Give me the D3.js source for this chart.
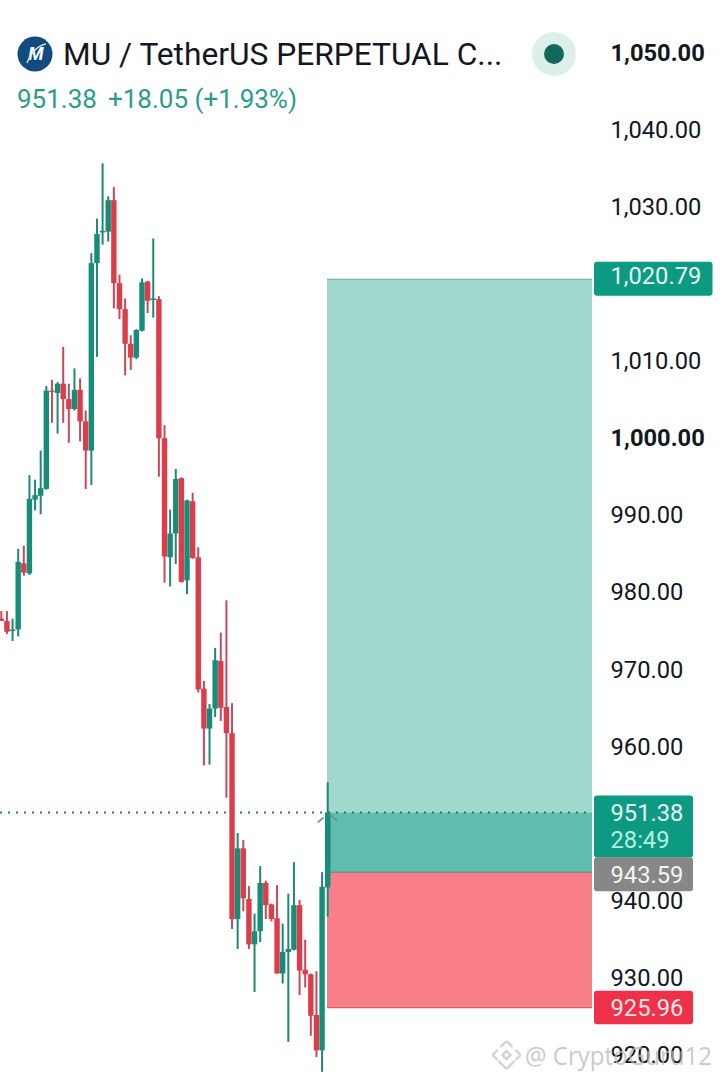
<!DOCTYPE html>
<html><head><meta charset="utf-8">
<style>html,body{margin:0;padding:0;background:#fff;overflow:hidden}svg{display:block}text{font-family:Roboto,sans-serif}</style>
<script src="https://cdn.jsdelivr.net/npm/d3@7"></script></head><body>
<script>
const opens=[976.6,976.3,975.0,975.2,983.8,982.5,992.1,992.6,993.5,1006.3,1006.0,1007.2,1005.2,1003.9,1006.4,1002.3,998.5,1022.9,1026.9,1027.0,1031.1,1020.3,1016.9,1012.4,1010.6,1014.1,1020.5,1018.1,1018.2,1000.1,984.6,987.7,994.9,981.6,991.9,984.6,967.5,962.3,964.9,971.1,965.1,961.7,937.5,946.7,940.1,934.2,935.9,942.2,939.4,937.6,930.4,933.2,933.5,939.3,930.9,930.3,925.0,920.4,941.6];
const highs=[977.6,977.6,976.6,985.7,986.1,995.3,994.7,998.5,1006.9,1007.7,1007.4,1012.0,1007.2,1009.2,1007.9,1003.7,1024.2,1028.7,1035.9,1031.6,1032.8,1021.4,1018.3,1013.5,1014.3,1020.9,1020.6,1026.1,1018.6,1001.8,990.8,996.1,995.0,992.1,993.0,985.9,968.5,965.5,972.8,974.8,979.0,965.6,948.7,947.8,941.8,938.2,944.4,942.5,939.5,941.9,936.9,940.8,944.9,940.0,934.8,930.4,930.7,943.6,955.3];
const lows=[976.3,974.6,973.7,974.3,982.2,982.3,990.7,990.2,993.4,1002.1,1000.7,1002.1,999.5,1003.7,999.7,993.5,994.0,1010.7,1025.3,1025.7,1017.0,1015.6,1008.3,1009.0,1010.4,1014.0,1016.4,1015.8,995.1,981.3,980.8,983.7,981.3,979.8,984.4,967.0,957.5,957.6,963.8,963.3,953.3,936.2,933.6,938.5,933.6,928.0,934.5,937.5,937.2,930.4,929.1,921.5,933.4,927.6,928.6,922.3,919.5,917.6,937.8];
const closes=[976.3,974.9,975.2,984.0,982.6,992.2,992.7,993.6,1006.3,1006.2,1007.2,1005.2,1003.9,1006.4,1002.3,998.5,1022.9,1026.7,1027.1,1031.1,1020.3,1016.9,1012.4,1010.6,1014.2,1020.4,1018.0,1018.3,1000.1,984.7,987.7,994.8,981.4,992.0,984.5,967.4,962.3,964.9,971.2,965.0,961.7,937.5,946.7,940.2,934.2,935.9,942.2,939.3,937.5,930.4,933.2,933.6,939.3,930.8,930.3,924.9,920.4,941.7,951.38];
const tickValues=[1050,1040,1030,1010,1000,990,980,970,960,940,930,920];
const boldTicks=[1050,1000];
const targetPrice=1020.79, entryPrice=943.59, stopPrice=925.96, lastPrice=951.38;
const titleText="MU / TetherUS PERPETUAL C...";
const quoteText="951.38";
const changeText="+18.05 (+1.93%)";
const countdownText="28:49";
const watermarkText="@ CryptoGuru12";

const W=720,H=1081;
const GREEN="#178d79",RED="#dc3d4b",GWICK="#1e8877",RWICK="#c9485a";
const svg=d3.select("body").append("svg").attr("width",W).attr("height",H);
const y=d3.scaleLinear().domain([920,1050]).range([1053.4,55]);
const yTick=d3.scaleLinear().domain([920,1050]).range([1054.5,52.5]);
const x=d3.scaleLinear().domain([0,opens.length-1]).range([1.3,327.7]);
const fmt=d3.format(",.2f");

// position box
const boxL=327,boxR=592;
const box=svg.append("g");
box.append("rect").attr("x",boxL).attr("width",boxR-boxL).attr("y",y(targetPrice)).attr("height",y(lastPrice)-y(targetPrice)).attr("fill","#a0d8cd");
box.append("rect").attr("x",boxL).attr("width",boxR-boxL).attr("y",y(lastPrice)).attr("height",y(entryPrice)-y(lastPrice)).attr("fill","#60bdad");
box.append("rect").attr("x",boxL).attr("width",boxR-boxL).attr("y",y(entryPrice)).attr("height",y(stopPrice)-y(entryPrice)).attr("fill","#f87f8a");
box.append("line").attr("x1",boxL).attr("x2",boxR).attr("y1",y(targetPrice)).attr("y2",y(targetPrice)).attr("stroke","#6fbcae").attr("stroke-width",1.2);
box.append("line").attr("x1",boxL).attr("x2",boxR).attr("y1",y(entryPrice)).attr("y2",y(entryPrice)).attr("stroke","#7d8f8b").attr("stroke-width",1.4);
box.append("line").attr("x1",boxL).attr("x2",boxR).attr("y1",y(stopPrice)).attr("y2",y(stopPrice)).attr("stroke","#c9636e").attr("stroke-width",1.2);

// last price dotted line
svg.append("line").attr("x1",0).attr("x2",boxR).attr("y1",y(lastPrice)).attr("y2",y(lastPrice))
  .attr("stroke","#2a7f70").attr("stroke-width",2).attr("stroke-dasharray","2 6");

// candles
const idx=d3.range(opens.length);
const c=svg.append("g").selectAll("g").data(idx).join("g");
c.append("line").attr("x1",i=>x(i)).attr("x2",i=>x(i)).attr("y1",i=>y(highs[i])).attr("y2",i=>y(lows[i]))
  .attr("stroke",i=>closes[i]>=opens[i]?GWICK:RWICK).attr("stroke-width",2);
c.append("rect").attr("x",i=>x(i)-2.7).attr("width",5.4)
  .attr("y",i=>y(Math.max(opens[i],closes[i])))
  .attr("height",i=>Math.max(1.2,Math.abs(y(opens[i])-y(closes[i]))))
  .attr("fill",i=>closes[i]>=opens[i]?GREEN:RED);

// countdown chevron at the last bar
const ly=y(lastPrice), lx=x(opens.length-1);
svg.append("path").attr("d",`M${lx-10},${ly+10}L${lx-4},${ly+5}M${lx+2},${ly+2}L${lx+10},${ly+9}`)
  .attr("fill","none").attr("stroke","#6f8f89").attr("stroke-width",1.6);

// axis ticks
const TX=610.5;
svg.append("g").selectAll("text").data(tickValues).join("text")
  .attr("x",TX).attr("y",d=>yTick(d)).attr("dy","0.355em")
  .attr("font-size",23.7).attr("fill","#131722")
  .attr("font-weight",d=>boldTicks.includes(d)?700:400)
  .text(fmt);

// watermark
const wm=svg.append("g").attr("opacity",0.75);
wm.append("text").attr("x",525).attr("y",1065).attr("font-size",25).attr("fill","#b9b9b9")
  .attr("textLength",187).attr("lengthAdjust","spacingAndGlyphs")
  .style("font-family","'Open Sans',sans-serif").text(watermarkText);
const dia=wm.append("g").attr("transform","translate(506.5,1055)").attr("fill","none").attr("stroke","#c4c4c4").attr("stroke-width",2.4);
dia.append("path").attr("d","M0,-14L6,-8M0,-14L-6,-8M-14,0L-9,-5M-14,0L-9,5M14,0L9,-5M14,0L9,5M0,14L-8,6M0,14L8,6");
dia.append("path").attr("d","M0,-4L4,0L0,4L-4,0Z");

// price tags
function tag(y0,y1,w,fill){svg.append("rect").attr("x",594).attr("y",y0).attr("width",w).attr("height",y1-y0).attr("rx",3).attr("fill",fill);}
function tagText(t,yc,fill){svg.append("text").attr("x",TX).attr("y",yc).attr("dy","0.355em").attr("font-size",23.7).attr("fill",fill).text(t);}
tag(y(targetPrice)-17.5,y(targetPrice)+16.5,118.5,"#0d9a82");
tagText(fmt(targetPrice),y(targetPrice)-3.5,"#e6f6f2");
tag(y(lastPrice)-17,y(lastPrice)+45,99,"#0d9a82");
tagText(fmt(lastPrice),y(lastPrice),"#e6f6f2");
tagText(countdownText,y(lastPrice)+27.5,"#b6f0e0");
tag(y(entryPrice)-15,y(entryPrice)+19,99,"#878787");
tagText(fmt(entryPrice),y(entryPrice)+2,"#f4f4f4");
tag(y(stopPrice)-17,y(stopPrice)+16.5,99,"#ee3048");
tagText(fmt(stopPrice),y(stopPrice),"#fbe6e8");

// header
const logo=svg.append("g").attr("transform","translate(35,54)");
logo.append("circle").attr("r",17.5).attr("fill","#134a80");
logo.append("text").attr("text-anchor","middle").attr("x",1).attr("y",6).attr("font-size",18).attr("font-weight",700).attr("font-style","italic").attr("fill","#fff").text("M");
logo.append("path").attr("d","M-8,9C-2,-6 6,-9 11,-10").attr("fill","none").attr("stroke","#cfe0f0").attr("stroke-width",1.4);
svg.append("text").attr("x",63).attr("y",65).attr("font-size",31.7).attr("fill","#131722").text(titleText);
svg.append("text").attr("x",17).attr("y",108).attr("font-size",26).attr("fill","#2a9c8a").text(quoteText);
svg.append("text").attr("x",108).attr("y",108).attr("font-size",26).attr("fill","#2a9c8a").text(changeText);
svg.append("circle").attr("cx",554).attr("cy",54).attr("r",22).attr("fill","#dcefeb");
svg.append("circle").attr("cx",554).attr("cy",54).attr("r",10).attr("fill","#10695a");
</script></body></html>
